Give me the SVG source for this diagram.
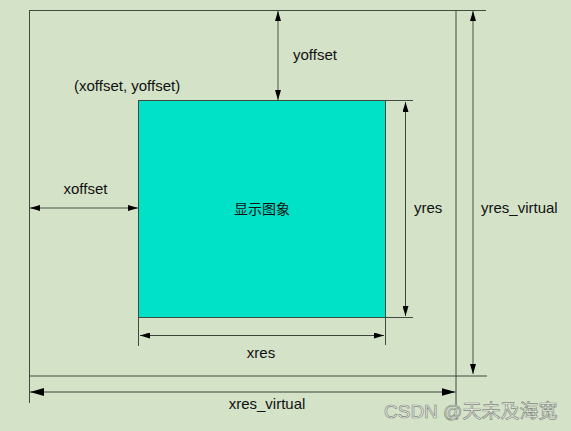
<svg xmlns="http://www.w3.org/2000/svg" width="571" height="431" viewBox="0 0 571 431">
  <defs>
    <style>
      .frame { fill: none; stroke: #3f4b3f; stroke-width: 1; }
      .screen { fill: #00e2c8; stroke: #3f4b3f; stroke-width: 1; }
      .ext { stroke: #3f4b3f; stroke-width: 1; fill: none; }
      .dim-gray { stroke: #8d9b89; stroke-width: 2; fill: none; }
      .dim-dark { stroke: #3a453a; stroke-width: 1; fill: none; }
      .lbl { font-family: "Liberation Sans", Arial, sans-serif; font-size: 15px; fill: #111; }
      .cjk { font-family: "Noto Sans CJK SC", sans-serif; font-size: 14px; fill: #111; }
      .wm { font-family: "Liberation Sans", "Noto Sans CJK SC", sans-serif; font-size: 19px; fill: #f3f6f0; stroke: #838a80; stroke-width: 0.7; }
    </style>
    <marker id="ah" viewBox="0 0 10 6" markerWidth="10" markerHeight="6" refX="10" refY="3" orient="auto-start-reverse" markerUnits="userSpaceOnUse">
      <path d="M0,0 L10,3 L0,6 z" fill="#000"/>
    </marker>
    <marker id="ahL" viewBox="0 0 14 8" markerWidth="14" markerHeight="8" refX="14" refY="4" orient="auto-start-reverse" markerUnits="userSpaceOnUse">
      <path d="M0,0 L14,4 L0,8 z" fill="#000"/>
    </marker>
  </defs>
  <rect x="0" y="0" width="571" height="431" fill="#d4e2c8"/>

  <g id="virtual-frame">
    <rect class="frame" x="29.5" y="10.5" width="426.5" height="365.5"/>
    <line class="ext" x1="456" y1="10.5" x2="486" y2="10.5"/>
    <line class="ext" x1="456" y1="376" x2="487" y2="376"/>
    <line class="ext" x1="29.5" y1="376" x2="29.5" y2="403"/>
    <line class="ext" x1="456" y1="376" x2="456" y2="405"/>
  </g>

  <g id="screen">
    <rect class="screen" x="138.5" y="100.5" width="247" height="217"/>
    <line class="ext" x1="385.5" y1="100.5" x2="413" y2="100.5"/>
    <line class="ext" x1="385.5" y1="317.5" x2="413" y2="317.5"/>
    <line class="ext" x1="138.5" y1="317.5" x2="138.5" y2="346"/>
    <line class="ext" x1="385.5" y1="317.5" x2="385.5" y2="345"/>
    <text class="cjk" x="262" y="214" text-anchor="middle">显示图象</text>
  </g>

  <g id="connectors">
    <line class="dim-gray" x1="278" y1="11" x2="278" y2="100" marker-start="url(#ah)" marker-end="url(#ah)"/>
    <line class="dim-gray" x1="30" y1="208" x2="138" y2="208" marker-start="url(#ah)" marker-end="url(#ah)"/>
    <line class="dim-dark" x1="405.5" y1="102" x2="405.5" y2="316" marker-start="url(#ah)" marker-end="url(#ah)"/>
    <line class="dim-gray" x1="473" y1="11" x2="473" y2="374" marker-start="url(#ah)" marker-end="url(#ah)"/>
    <line class="dim-dark" x1="140" y1="335.5" x2="384" y2="335.5" marker-start="url(#ah)" marker-end="url(#ah)"/>
    <line class="dim-dark" x1="30" y1="392" x2="455.5" y2="392" marker-start="url(#ahL)" marker-end="url(#ahL)"/>
  </g>

  <g id="labels">
    <text class="lbl" x="293" y="60">yoffset</text>
    <text class="lbl" x="74" y="91">(xoffset, yoffset)</text>
    <text class="lbl" x="85.5" y="194" text-anchor="middle">xoffset</text>
    <text class="lbl" x="414" y="213">yres</text>
    <text class="lbl" x="481" y="213">yres_virtual</text>
    <text class="lbl" x="261" y="358" text-anchor="middle">xres</text>
    <text class="lbl" x="267" y="409" text-anchor="middle">xres_virtual</text>
  </g>

  <text class="wm" x="384" y="418">CSDN @天未及海宽</text>
</svg>
